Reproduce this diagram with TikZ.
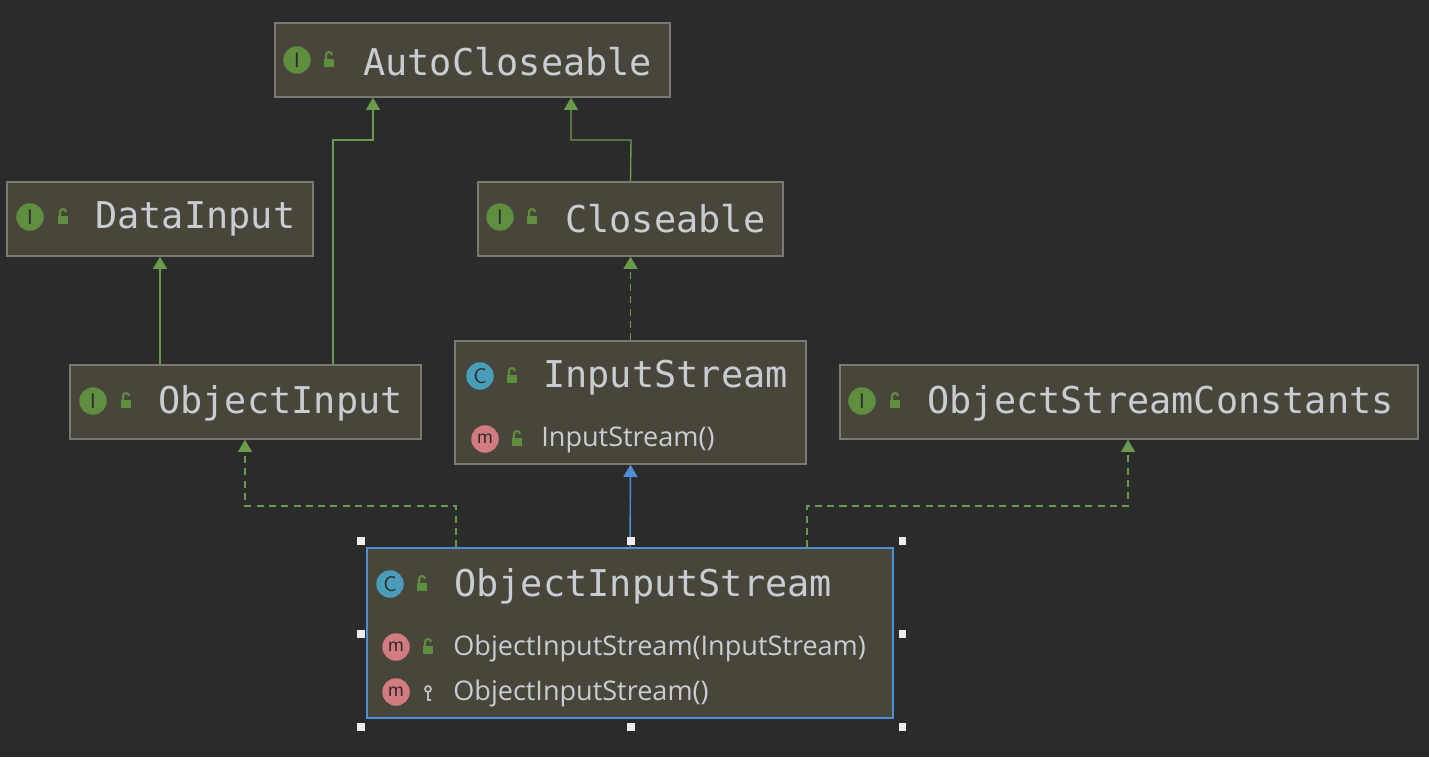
\documentclass[tikz,border=0pt]{standalone}
\usepackage{fontspec}
\setmainfont{Open Sans}
\setmonofont{DejaVu Sans Mono}
\usetikzlibrary{arrows.meta}
\definecolor{bg}{HTML}{2B2B2B}
\definecolor{boxfill}{HTML}{48453B}
\definecolor{boxline}{HTML}{7A7A72}
\definecolor{txt}{HTML}{C9CDD1}
\definecolor{igreen}{HTML}{5F8F3E}
\definecolor{cblue}{HTML}{4A9DB8}
\definecolor{mred}{HTML}{D27C82}
\definecolor{lnk}{HTML}{6A9A4C}
\definecolor{sel}{HTML}{4F8FD8}

\begin{document}
\begin{tikzpicture}[
  x=0.02cm, y=-0.02cm,
   box/.style = {rectangle, draw=boxline, fill=boxfill, line width=0.8pt,
                 minimum height=1.48cm, inner sep=0pt},
  head/.style = {anchor=west, text=txt, font=\ttfamily\fontsize{21}{24}\selectfont,
                 inner sep=0pt},
  meth/.style = {anchor=west, text=txt, font=\fontsize{15.4}{18}\selectfont,
                 inner sep=0pt},
   ico/.style = {circle, minimum size=0.55cm, inner sep=0pt,
                 font=\sffamily\fontsize{12}{12}\selectfont},
  ifc/.style  = {ico, fill=igreen, text=bg},
  cls/.style  = {ico, fill=cblue, text=bg},
  mth/.style  = {ico, fill=mred, text=bg},
   inh/.style = {lnk, line width=0.8pt, -{Triangle[length=7pt,width=8pt]}},
  impl/.style = {inh, dash pattern=on 4pt off 3pt},
handle/.style = {rectangle, fill=white!85!gray, minimum size=4pt, inner sep=0pt},
  lock/.pic   = {\fill[igreen] (-5,-1) rectangle (5,7);
                 \draw[igreen, line width=1.2pt] (-3,-1) -- (-3,-5) arc (180:360:3);},
   key/.pic   = {\draw[txt!80!gray, line width=1pt] (0,-3) circle (3) (0,0) -- (0,8) -- (3,8);},
                        ]
\useasboundingbox[fill=bg] (0,0) rectangle (1429,757);
% boxes
\node[box, minimum width=7.9cm]  (auto)   at (472.5,60)  {};
\node[box, minimum width=6.12cm] (datain) at (160,219)   {};
\node[box, minimum width=6.1cm]  (close)  at (630.5,219) {};
\node[box, minimum width=7.02cm] (objin)  at (245.5,402) {};
\node[box, minimum width=7.02cm, minimum height=2.46cm] (instr) at (630.5,402.5) {};
\node[box, minimum width=11.56cm] (osc)   at (1129,402)  {};
\node[box, draw=sel, minimum width=10.52cm, minimum height=3.4cm] (ois) at (630,633) {};
% titles
\node[ifc] (auto-i)   at (297,60)  {I}; \pic at (329,60) {lock};
\node[head] (auto-t)  at (363,62)  {AutoCloseable};
\node[ifc] (datain-i) at (30,217)  {I}; \pic at (63,217) {lock};
\node[head] (datain-t) at (95,219) {DataInput};
\node[ifc] (close-i)  at (500,217) {I}; \pic at (532,217) {lock};
\node[head] (close-t) at (565,219) {Closeable};
\node[ifc] (objin-i)  at (93,401)  {I}; \pic at (126,401) {lock};
\node[head] (objin-t) at (158,403) {ObjectInput};
\node[cls] (instr-i)  at (480,376) {C}; \pic at (512,376) {lock};
\node[head] (instr-t) at (543,378) {InputStream};
\node[mth] (instr-m)  at (485,439) {m}; \pic at (517,439) {lock};
\node[meth] (instr-c) at (541,440) {InputStream()};
\node[ifc] (osc-i)    at (862,401) {I}; \pic at (895,401) {lock};
\node[head] (osc-t)   at (927,403) {ObjectStreamConstants};
\node[cls] (ois-i)    at (390,584) {C}; \pic at (422,584) {lock};
\node[head] (ois-t)   at (454,586) {ObjectInputStream};
\node[mth] (ois-m1)   at (396,647) {m}; \pic at (428,647) {lock};
\node[meth] (ois-c1)  at (453,648) {ObjectInputStream(InputStream)};
\node[mth] (ois-m2)   at (396,692) {m}; \pic at (428,692) {key};
\node[meth] (ois-c2)  at (453,693) {ObjectInputStream()};
% bends
\coordinate (b1) at (333,140);  \coordinate (b2) at (373,140);
\coordinate (b3) at (631,140);  \coordinate (b4) at (571,140);
\coordinate (b5) at (456,506);  \coordinate (b6) at (245,506);
\coordinate (b7) at (807,506);  \coordinate (b8) at (1128,506);
% connectors
\draw[inh]  (objin.north -| datain) -- (datain);
\draw[inh]  (b1 |- objin.north) -- (b1) -- (b2) -- (b2 |- auto.south);
\draw[inh]  (close.north) -- (b3) -- (b4) -- (b4 |- auto.south);
\draw[impl] (instr.north) -- (close.south);
\draw[sel, line width=0.8pt, -{Triangle[length=7pt,width=8pt]}] (ois.north) -- (instr.south);
\draw[impl] (b5 |- ois.north) -- (b5) -- (b6) -- (b6 |- objin.south);
\draw[impl] (b7 |- ois.north) -- (b7) -- (b8) -- (b8 |- osc.south);
% selection handles
\foreach \p in {(361,541),(631,541),(902,541),(361,634),(902,634),(361,727),(631,727),(902,727)}
    \node[handle] at \p {};
\end{tikzpicture}
\end{document}
